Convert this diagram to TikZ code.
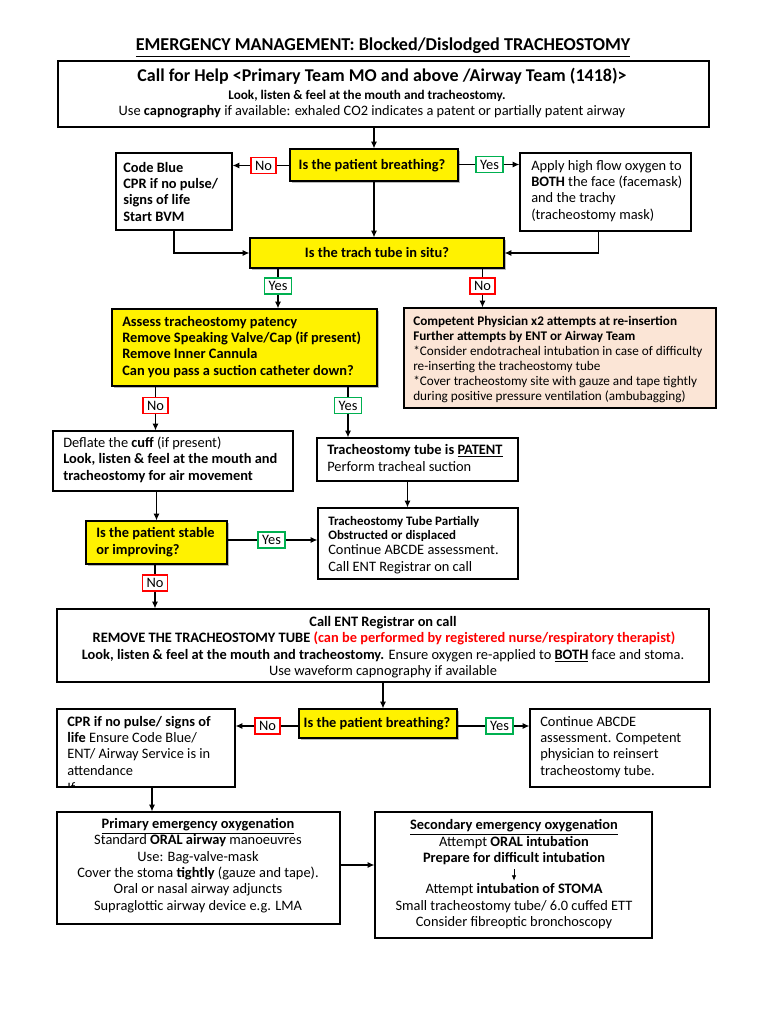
\documentclass[tikz,border=0pt]{standalone}
\usepackage{fontspec}
\setmainfont{Carlito}
\usetikzlibrary{arrows.meta,fit,calc,shadows}
\newcommand\bodyfs{\fontsize{10.8}{12.2}\selectfont}
\newcommand\smallfs{\fontsize{9.9}{11.25}\selectfont}
\newcommand\tinyfs{\fontsize{9.7}{10.5}\selectfont}
\newcommand\bigfs{\fontsize{13.5}{15}\selectfont}
\newcommand\titlefs{\fontsize{13.6}{15}\selectfont}
\definecolor{peach}{HTML}{FBE5D6}
\definecolor{lblred}{HTML}{FF0000}
\definecolor{lblgreen}{HTML}{00B050}
\begin{document}
\begin{tikzpicture}[x=0.75pt,y=-0.75pt,
  box/.style={draw=black, line width=0.9pt, inner sep=0pt, fill=white},
  ybox/.style={box, fill=yellow, drop shadow={shadow xshift=1.5pt, shadow yshift=-1.5pt, fill=black!45, opacity=0.6}},
  pbox/.style={box, fill=peach},
  txt/.style={inner sep=0pt, font=\bodyfs},
  ltxt/.style={txt, align=left, anchor=base west},
  ctxt/.style={txt, align=center, anchor=base},
  lbl/.style={draw, fill=white, line width=0.8pt, inner sep=0pt, minimum height=16*0.75pt, minimum width=25*0.75pt, font=\bodyfs},
  nol/.style={lbl, draw=lblred},
  yesl/.style={lbl, draw=lblgreen, minimum width=27*0.75pt},
  ln/.style={line width=0.9pt},
  arr/.style={ln, -{Latex[length=5pt,width=4.5pt]}}
]
\useasboundingbox (0,0) rectangle (768,1024);
\fill[white] (0,0) rectangle (768,1024);

% title
\node[ctxt, font=\titlefs\bfseries] (title) at (383,51) {\underline{EMERGENCY MANAGEMENT: Blocked/Dislodged TRACHEOSTOMY}};

% top box
\node[box, fit={(58,61) (709,127)}] (top) {};
\node[ctxt, font=\bigfs\bfseries] (topA) at (382,82) {Call for Help <Primary Team MO and above /Airway Team (1418)>};
\node[ctxt, font=\smallfs\bfseries] (topB) at (367,99) {Look, listen \& feel at the mouth and tracheostomy.};
\node[ctxt] (topC) at (372,115) {Use \textbf{capnography} if available: exhaled CO2 indicates a patent or partially patent airway};

% breathing 1
\node[ybox, fit={(290,149) (458,181)}] (br1) {};
\node[ctxt, font=\bodyfs\bfseries] (br1T) at (372,169) {Is the patient breathing?};

% code blue
\node[box, fit={(116,153) (232,230)}] (cb) {};
\node[ltxt, font=\bodyfs\bfseries] (cbT) at (123,221) {Code Blue\\CPR if no pulse/\\signs of life\\Start BVM};

% apply
\node[box, fit={(520,153) (691,231)}] (ap) {};
\node[ltxt] (apT) at (531,219) {Apply high flow oxygen to\\\textbf{BOTH} the face (facemask)\\and the trachy\\(tracheostomy mask)};

% trach in situ
\node[ybox, fit={(250,238) (504,268)}] (tr) {};
\node[ctxt, font=\bodyfs\bfseries] (trT) at (377,257) {Is the trach tube in situ?};

% assess
\node[ybox, fit={(112,309) (377,386)}] (as) {};
\node[ltxt, font=\bodyfs\bfseries] (asT) at (122,375) {Assess tracheostomy patency\\Remove Speaking Valve/Cap (if present)\\Remove Inner Cannula\\Can you pass a suction catheter down?};

% competent
\node[pbox, fit={(404,308) (716,408)}] (cp) {};
\node[ltxt, font=\smallfs] (cpT) at (413,400) {\textbf{Competent Physician x2 attempts at re-insertion}\\\textbf{Further attempts by ENT or Airway Team}\\*Consider endotracheal intubation in case of difficulty\\re-inserting the tracheostomy tube\\*Cover tracheostomy site with gauze and tape tightly\\during positive pressure ventilation (ambubagging)};

% deflate
\node[box, fit={(53,431) (293,491)}] (df) {};
\node[ltxt] (dfT) at (63,480) {Deflate the \textbf{cuff} (if present)\\\textbf{Look, listen \& feel at the mouth and}\\\textbf{tracheostomy for air movement}};

% patent
\node[box, fit={(317,438) (518,481)}] (pt) {};
\node[ltxt] (ptT) at (327,471) {\textbf{Tracheostomy tube is \underline{PATENT}}\\Perform tracheal suction};

% partial
\node[box, fit={(318,508) (518,579)}] (pa) {};
\node[ltxt, font=\tinyfs\bfseries] (paA) at (328,539) {Tracheostomy Tube Partially\\Obstructed or displaced};
\node[ltxt] (paB) at (328,571) {Continue ABCDE assessment.\\Call ENT Registrar on call};

% stable
\node[ybox, fit={(86,521) (227,564)}] (st) {};
\node[ltxt, font=\bodyfs\bfseries] (stT) at (96,554) {Is the patient stable\\or improving?};

% big box
\node[box, fit={(57,609) (709,682)}] (big) {};
\node[ctxt, font=\bodyfs\bfseries] (bigA) at (383,626) {Call ENT Registrar on call};
\node[ctxt] (bigB) at (384,642) {\textbf{REMOVE THE TRACHEOSTOMY TUBE} \textcolor{red}{\textbf{(can be performed by registered nurse/respiratory therapist)}}};
\node[ctxt] (bigC) at (383,659) {\textbf{Look, listen \& feel at the mouth and tracheostomy.} Ensure oxygen re-applied to \textbf{\underline{BOTH}} face and stoma.};
\node[ctxt] (bigD) at (383,675) {Use waveform capnography if available};

% breathing 2
\node[ybox, fit={(299,709) (457,738)}] (br2) {};
\node[ctxt, font=\bodyfs\bfseries] (br2T) at (377,727) {Is the patient breathing?};

% CPR
\node[box, fit={(57,709) (235,787)}] (cpr) {};
\node[ltxt] (cprT) at (67,775) {\textbf{CPR if no pulse/ signs of}\\\textbf{life} Ensure Code Blue/\\ENT/ Airway Service is in\\attendance};
\begin{scope}
  \clip (58,710) rectangle (234,786);
  \node[ltxt] (cprX) at (67,792) {If};
\end{scope}

% continue
\node[box, fit={(530,709) (710,787)}] (co) {};
\node[ltxt] (coT) at (540,775) {Continue ABCDE\\assessment. Competent\\physician to reinsert\\tracheostomy tube.};

% primary
\node[box, fit={(57,812) (340,924)}] (pr) {};
\node[ctxt] (prT) at (198,910) {\textbf{\underline{Primary emergency oxygenation}}\\Standard \textbf{ORAL airway} manoeuvres\\Use: Bag-valve-mask\\Cover the stoma \textbf{tightly} (gauze and tape).\\Oral or nasal airway adjuncts\\Supraglottic airway device e.g. LMA};

% secondary
\node[box, fit={(375,812) (652,938)}] (se) {};
\node[ctxt] (seA) at (514,862.5) {\textbf{\underline{Secondary emergency oxygenation}}\\Attempt \textbf{ORAL intubation}\\\textbf{Prepare for difficult intubation}};
\node[ctxt] (seB) at (514,926.5) {Attempt \textbf{intubation of STOMA}\\Small tracheostomy tube/ 6.0 cuffed ETT\\Consider fibreoptic bronchoscopy};
\draw[line width=0.6pt, -{Latex[length=4pt,width=3.5pt]}] ($(seA.south)+(0,4)$) -- ($(seB.north)+(0,-3)$);

% labels
\node[nol] (no1) at (263.5,165.5) {No};
\node[yesl] (yes1) at (489.5,164.5) {Yes};
\node[yesl] (yes2) at (278,286) {Yes};
\node[nol] (no2) at (482.5,286) {No};
\node[nol] (no3) at (155.5,405.5) {No};
\node[yesl] (yes3) at (348,405.5) {Yes};
\node[yesl] (yes4) at (271.5,540) {Yes};
\node[nol] (no4) at (155,583) {No};
\node[nol] (no5) at (267.5,726) {No};
\node[yesl] (yes5) at (499.5,726) {Yes};

% helper coordinates
\coordinate (cprb) at ($(cpr.south)+(6,0)$);
\coordinate (apb) at ($(ap.south)+(-7,0)$);
\coordinate (ptb) at ($(pt.south)+(-10,0)$);
\coordinate (pre) at (340,865);

% connectors
\draw[arr] (br1.north |- top.south) -- (br1.north);
\draw[ln] (br1.west |- no1.east) -- (no1.east);
\draw[arr] (no1.west) -- (no1.west -| cb.east);
\draw[ln] (br1.east |- yes1.west) -- (yes1.west);
\draw[arr] (yes1.east) -- (yes1.east -| ap.west);
\draw[arr] (br1.south) -- (br1.south |- tr.north);
\draw[arr] (cb.south) |- (tr.west);
\draw[arr] (apb) |- (tr.east);
\draw[ln] (yes2 |- tr.south) -- (yes2.north);
\draw[arr] (yes2.south) -- (yes2.south |- as.north);
\draw[ln] (no2 |- tr.south) -- (no2.north);
\draw[arr] (no2.south) -- (no2.south |- cp.north);
\draw[ln] (no3 |- as.south) -- (no3.north);
\draw[arr] (no3.south) -- (no3.south |- df.north);
\draw[ln] (yes3 |- as.south) -- (yes3.north);
\draw[arr] (yes3.south) -- (yes3.south |- pt.north);
\draw[arr] (st.north |- df.south) -- (st.north);
\draw[arr] (ptb) -- (ptb |- pa.north);
\draw[ln] (st.east |- yes4.west) -- (yes4.west);
\draw[arr] (yes4.east) -- (yes4.east -| pa.west);
\draw[ln] (no4 |- st.south) -- (no4.north);
\draw[arr] (no4.south) -- (no4.south |- big.north);
\draw[arr] (big.south) -- (big.south |- br2.north);
\draw[ln] (br2.west |- no5.east) -- (no5.east);
\draw[arr] (no5.west) -- (no5.west -| cpr.east);
\draw[ln] (br2.east |- yes5.west) -- (yes5.west);
\draw[arr] (yes5.east) -- (yes5.east -| co.west);
\draw[arr] (cprb) -- (cprb |- pr.north);
\draw[arr] (pre) -- (pre -| se.west);
\end{tikzpicture}
\end{document}
